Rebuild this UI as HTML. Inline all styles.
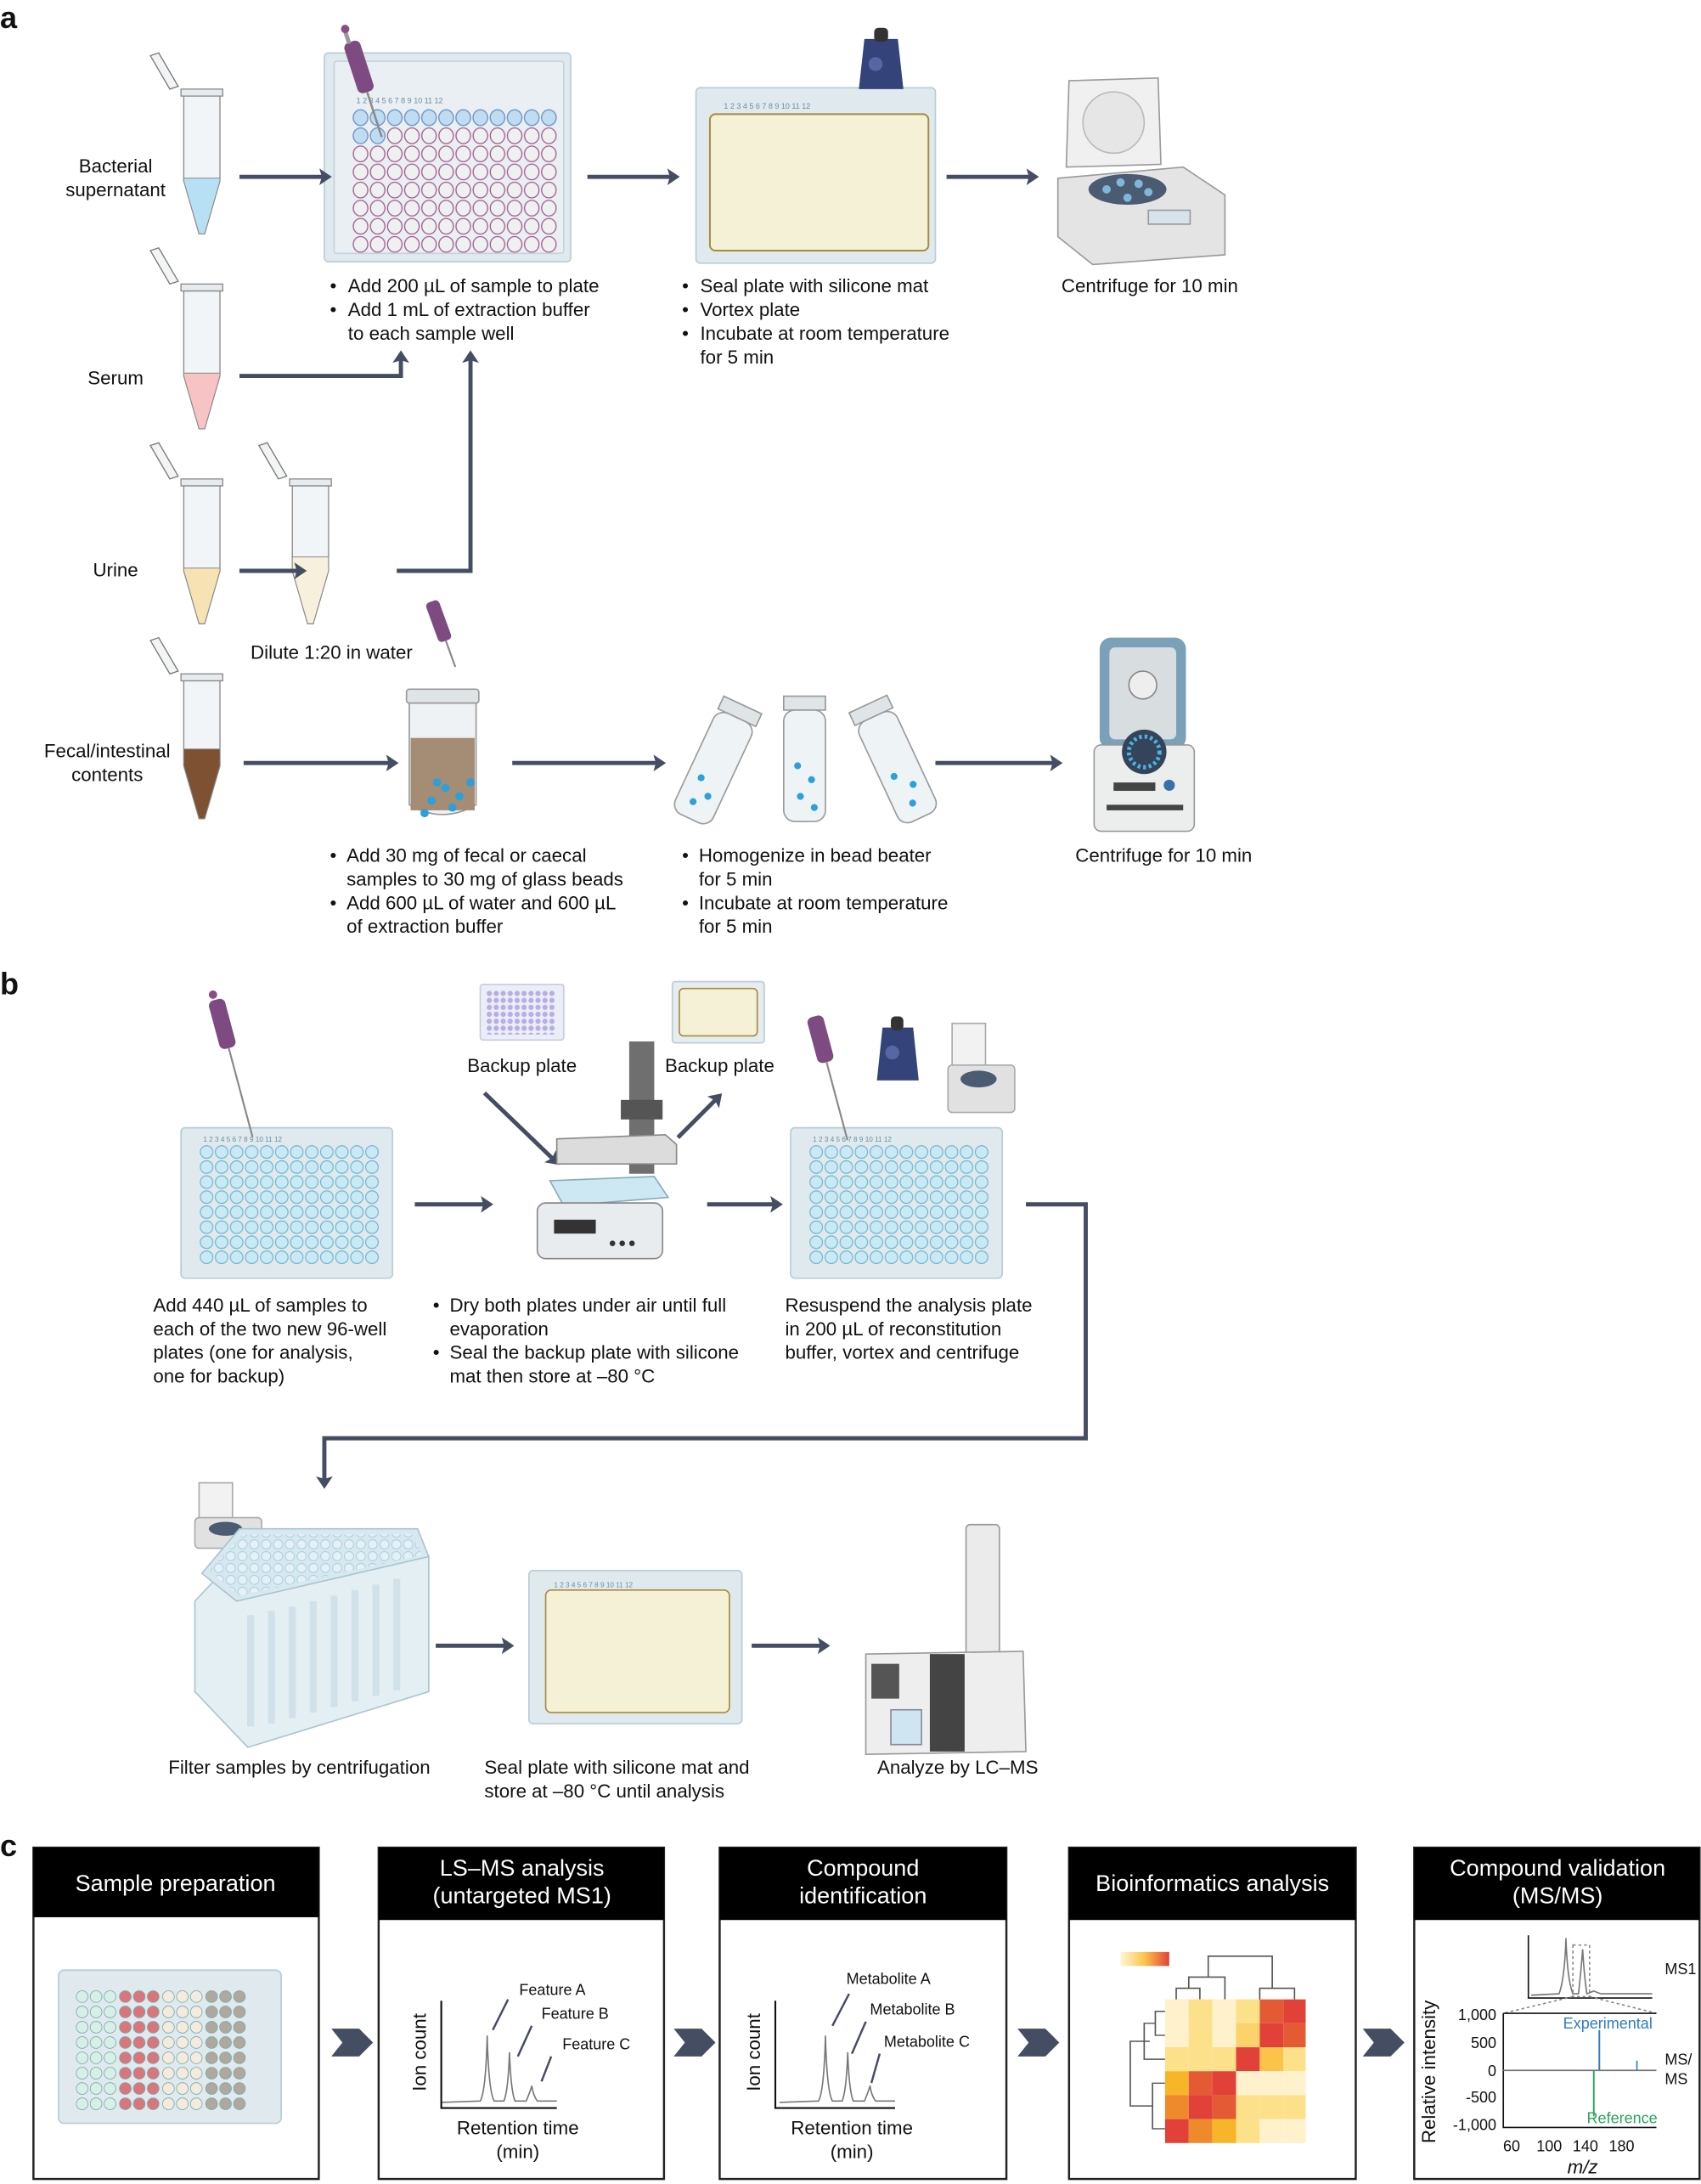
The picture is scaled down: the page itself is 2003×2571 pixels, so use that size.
<!DOCTYPE html>
<html><head><meta charset="utf-8"><style>
html,body{margin:0;padding:0;background:#fff}
svg{display:block}
text{font-family:"Liberation Sans",sans-serif;fill:#111}
.t{font-size:13.6px}
.h{font-size:16.5px;fill:#fff}
.s{font-size:11px}
.ar{stroke:#454d63;stroke-width:3;fill:none}
</style></head><body>
<svg width="2003" height="2571" viewBox="0 0 1222 1568.6" xmlns="http://www.w3.org/2000/svg">
<defs>
<marker id="m" markerWidth="4" markerHeight="4" refX="2.2" refY="2" orient="auto" markerUnits="strokeWidth"><path d="M0,0 L3,2 L0,4 L0.6,2 Z" fill="#454d63"/></marker>
<pattern id="wp" x="253" y="78" width="12.3" height="13" patternUnits="userSpaceOnUse"><ellipse cx="6" cy="6.5" rx="5.2" ry="5.6" fill="#eef0f2" stroke="#a45a8a" stroke-width="0.8"/></pattern>
<pattern id="wb2" width="10.8" height="10.8" patternUnits="userSpaceOnUse" x="143" y="822"><circle cx="5.4" cy="5.4" r="4.5" fill="#c9e9f5" stroke="#6fb3cf" stroke-width="0.7"/></pattern>
<pattern id="wb3" width="10.8" height="10.8" patternUnits="userSpaceOnUse" x="581" y="822"><circle cx="5.4" cy="5.4" r="4.5" fill="#c9e9f5" stroke="#6fb3cf" stroke-width="0.7"/></pattern>
<pattern id="wf" width="8.5" height="8.5" patternUnits="userSpaceOnUse"><circle cx="4.2" cy="4.2" r="3.3" fill="#e4f1f7" stroke="#a9cfe0" stroke-width="0.6"/></pattern>
<pattern id="wpur" width="5" height="5" patternUnits="userSpaceOnUse" x="349" y="711"><circle cx="2.5" cy="2.5" r="1.9" fill="#b7aee6"/></pattern>
<g id="tube">
<path d="M-22,-60 L-8,-36 L-2,-38 L-16,-62 Z" fill="#f2f4f5" stroke="#777" stroke-width="0.8"/>
<rect x="0" y="-36" width="30" height="5" fill="#e6ebee" stroke="#888" stroke-width="0.8"/>
<path d="M2,-31 L28,-31 L28,30 L17,68 L13,68 L2,30 Z" fill="#f1f5f7" stroke="#888" stroke-width="0.8"/>
</g>
</defs>

<!-- ===== PANEL A ===== -->
<text x="0" y="20" style="font-size:22px;font-weight:bold">a</text>

<use href="#tube" x="130" y="100"/><path d="M132,128 L158,128 L158,130 L147,168 L143,168 L132,130 Z" fill="#b7e0f5" stroke="#888" stroke-width="0.6"/>
<use href="#tube" x="130" y="240"/><path d="M132,268 L158,268 L158,270 L147,308 L143,308 L132,270 Z" fill="#f8c3c5" stroke="#888" stroke-width="0.6"/>
<use href="#tube" x="130" y="380"/><path d="M132,408 L158,408 L158,410 L147,448 L143,448 L132,410 Z" fill="#f6e2b2" stroke="#888" stroke-width="0.6"/>
<use href="#tube" x="208" y="380"/><path d="M210,400 L236,400 L236,410 L225,448 L221,448 L210,410 Z" fill="#f7f0dc" stroke="#888" stroke-width="0.6"/>
<use href="#tube" x="130" y="520"/><path d="M132,538 L158,538 L158,550 L147,588 L143,588 L132,550 Z" fill="#7d5132" stroke="#888" stroke-width="0.6"/>

<text class="t" x="83" y="124" text-anchor="middle">Bacterial</text>
<text class="t" x="83" y="141" text-anchor="middle">supernatant</text>
<text class="t" x="83" y="276" text-anchor="middle">Serum</text>
<text class="t" x="83" y="414" text-anchor="middle">Urine</text>
<text class="t" x="77" y="544" text-anchor="middle">Fecal/intestinal</text>
<text class="t" x="77" y="561" text-anchor="middle">contents</text>

<!-- plate 1 -->
<rect x="233" y="38" width="177" height="150" rx="3" fill="#dfe9ee" stroke="#b6cdd6"/>
<rect x="240" y="44" width="165" height="138" rx="2" fill="#e9eff2" stroke="#c3d4db"/>
<text x="256" y="74" style="font-size:5.5px;fill:#6a8ea0">1    2    3    4    5    6    7    8    9   10   11   12</text>
<rect x="253" y="78" width="147.6" height="104" fill="url(#wp)"/>
<g fill="#bfdcf3" stroke="#6f9cc8" stroke-width="0.8">
<ellipse cx="259" cy="84.5" rx="5.2" ry="5.6"/><ellipse cx="271.3" cy="84.5" rx="5.2" ry="5.6"/><ellipse cx="283.6" cy="84.5" rx="5.2" ry="5.6"/><ellipse cx="295.9" cy="84.5" rx="5.2" ry="5.6"/><ellipse cx="308.2" cy="84.5" rx="5.2" ry="5.6"/><ellipse cx="320.5" cy="84.5" rx="5.2" ry="5.6"/><ellipse cx="332.8" cy="84.5" rx="5.2" ry="5.6"/><ellipse cx="345.1" cy="84.5" rx="5.2" ry="5.6"/><ellipse cx="357.4" cy="84.5" rx="5.2" ry="5.6"/><ellipse cx="369.7" cy="84.5" rx="5.2" ry="5.6"/><ellipse cx="382" cy="84.5" rx="5.2" ry="5.6"/><ellipse cx="394.3" cy="84.5" rx="5.2" ry="5.6"/>
<ellipse cx="259" cy="97.5" rx="5.2" ry="5.6"/><ellipse cx="271.3" cy="97.5" rx="5.2" ry="5.6"/></g>
<g transform="translate(252,30) rotate(-18)"><rect x="-6" y="0" width="12" height="38" rx="4" fill="#7e4a82"/><rect x="-3" y="-8" width="3" height="9" fill="#999"/><circle cx="-1" cy="-10" r="3" fill="#8b4d84"/><line x1="0" y1="38" x2="0" y2="72" stroke="#888" stroke-width="1.5"/></g>

<text class="t" x="237" y="210">•</text><text class="t" x="250" y="210">Add 200 µL of sample to plate</text>
<text class="t" x="237" y="227">•</text><text class="t" x="250" y="227">Add 1 mL of extraction buffer</text>
<text class="t" x="250" y="244">to each sample well</text>

<rect x="500" y="63" width="172" height="126" rx="3" fill="#dfe9ee" stroke="#b6cdd6"/>
<text x="520" y="78" style="font-size:5.5px;fill:#6a8ea0">1    2    3    4    5    6    7    8    9   10   11   12</text>
<rect x="510" y="82" width="157" height="98" rx="4" fill="#f5f1d6" stroke="#a8893f" stroke-width="1.2"/>
<g transform="translate(615,18)"><path d="M6,10 L30,10 L34,46 L2,46 Z" fill="#34437a"/><rect x="13" y="2" width="10" height="10" rx="3" fill="#333"/><circle cx="14" cy="28" r="5" fill="#5867a3"/></g>
<text class="t" x="490" y="210">•</text><text class="t" x="503" y="210">Seal plate with silicone mat</text>
<text class="t" x="490" y="227">•</text><text class="t" x="503" y="227">Vortex plate</text>
<text class="t" x="490" y="244">•</text><text class="t" x="503" y="244">Incubate at room temperature</text>
<text class="t" x="503" y="261">for 5 min</text>

<g transform="translate(760,58)">
<path d="M8,0 L72,-2 L74,60 L6,62 Z" fill="#f0f0f0" stroke="#9a9a9a"/>
<circle cx="40" cy="30" r="22" fill="#e6e6e6" stroke="#bbb"/>
<path d="M0,70 L90,62 L120,82 L120,125 L25,132 L0,112 Z" fill="#e4e4e4" stroke="#999"/>
<ellipse cx="50" cy="78" rx="28" ry="11" fill="#4a5b72"/>
<g fill="#7fb7d9"><circle cx="35" cy="78" r="3"/><circle cx="45" cy="73" r="3"/><circle cx="58" cy="74" r="3"/><circle cx="65" cy="80" r="3"/><circle cx="50" cy="84" r="3"/></g>
<rect x="65" y="93" width="30" height="10" fill="#d7e3ea" stroke="#999"/>
</g>
<text class="t" x="826" y="210" text-anchor="middle">Centrifuge for 10 min</text>

<line class="ar" x1="172" y1="127" x2="236" y2="127" marker-end="url(#m)"/>
<line class="ar" x1="422" y1="127" x2="486" y2="127" marker-end="url(#m)"/>
<line class="ar" x1="680" y1="127" x2="744" y2="127" marker-end="url(#m)"/>
<polyline class="ar" points="172,270 288,270 288,254" marker-end="url(#m)"/>
<line class="ar" x1="172" y1="410" x2="218" y2="410" marker-end="url(#m)"/>
<polyline class="ar" points="285,410 338,410 338,254" marker-end="url(#m)"/>
<text class="t" x="180" y="473">Dilute 1:20 in water</text>

<line class="ar" x1="175" y1="548" x2="284" y2="548" marker-end="url(#m)"/>
<line class="ar" x1="368" y1="548" x2="476" y2="548" marker-end="url(#m)"/>
<line class="ar" x1="672" y1="548" x2="761" y2="548" marker-end="url(#m)"/>

<g transform="translate(310,432) rotate(-20)"><rect x="-5" y="0" width="10" height="30" rx="3" fill="#7e4a82"/><line x1="0" y1="30" x2="0" y2="50" stroke="#888" stroke-width="1.3"/></g>
<rect x="292" y="495" width="52" height="10" rx="2" fill="#dfe4e7" stroke="#999"/>
<path d="M294,505 L342,505 L342,578 Q318,592 294,578 Z" fill="#eef2f4" stroke="#999"/>
<rect x="295" y="530" width="46" height="52" fill="#a58c75"/>
<g fill="#2f9fd8"><circle cx="320" cy="566" r="3"/><circle cx="330" cy="572" r="3"/><circle cx="310" cy="575" r="3"/><circle cx="325" cy="580" r="3"/><circle cx="338" cy="562" r="3"/><circle cx="314" cy="562" r="3"/><circle cx="305" cy="584" r="3"/></g>

<g fill="#eef3f6" stroke="#999">
<g transform="translate(520,500) rotate(25)"><rect x="0" y="0" width="30" height="10" fill="#dfe4e7"/><rect x="0" y="10" width="30" height="80" rx="8"/><circle cx="10" cy="60" r="2.5" fill="#2f9fd8" stroke="none"/><circle cx="20" cy="70" r="2.5" fill="#2f9fd8" stroke="none"/><circle cx="12" cy="78" r="2.5" fill="#2f9fd8" stroke="none"/></g>
<g transform="translate(563,500)"><rect x="0" y="0" width="30" height="10" fill="#dfe4e7"/><rect x="0" y="10" width="30" height="80" rx="8"/><circle cx="10" cy="50" r="2.5" fill="#2f9fd8" stroke="none"/><circle cx="20" cy="60" r="2.5" fill="#2f9fd8" stroke="none"/><circle cx="12" cy="72" r="2.5" fill="#2f9fd8" stroke="none"/><circle cx="22" cy="80" r="2.5" fill="#2f9fd8" stroke="none"/></g>
<g transform="translate(610,512) rotate(-25)"><rect x="0" y="0" width="30" height="10" fill="#dfe4e7"/><rect x="0" y="10" width="30" height="80" rx="8"/><circle cx="10" cy="55" r="2.5" fill="#2f9fd8" stroke="none"/><circle cx="20" cy="66" r="2.5" fill="#2f9fd8" stroke="none"/><circle cx="14" cy="78" r="2.5" fill="#2f9fd8" stroke="none"/></g>
</g>
<rect x="790" y="458" width="62" height="80" rx="8" fill="#7aa1b8"/>
<rect x="797" y="465" width="48" height="66" rx="4" fill="#d8dde0"/>
<circle cx="821" cy="492" r="10" fill="#eee" stroke="#888"/>
<rect x="786" y="535" width="72" height="62" rx="5" fill="#eceded" stroke="#999"/>
<circle cx="822" cy="540" r="16" fill="#34445a"/>
<circle cx="822" cy="540" r="11" fill="none" stroke="#4fb2e0" stroke-width="3" stroke-dasharray="2 2"/>
<rect x="800" y="562" width="30" height="6" fill="#444"/><rect x="795" y="578" width="55" height="4" fill="#444"/><circle cx="840" cy="564" r="4" fill="#3a6fa8"/>

<text class="t" x="237" y="619">•</text><text class="t" x="249" y="619">Add 30 mg of fecal or caecal</text>
<text class="t" x="249" y="636">samples to 30 mg of glass beads</text>
<text class="t" x="237" y="653">•</text><text class="t" x="249" y="653">Add 600 µL of water and 600 µL</text>
<text class="t" x="249" y="670">of extraction buffer</text>
<text class="t" x="490" y="619">•</text><text class="t" x="502" y="619">Homogenize in bead beater</text>
<text class="t" x="502" y="636">for 5 min</text>
<text class="t" x="490" y="653">•</text><text class="t" x="502" y="653">Incubate at room temperature</text>
<text class="t" x="502" y="670">for 5 min</text>
<text class="t" x="836" y="619" text-anchor="middle">Centrifuge for 10 min</text>

<!-- ===== PANEL B ===== -->
<text x="0" y="714" style="font-size:22px;font-weight:bold">b</text>
<rect x="130" y="810" width="152" height="108" rx="3" fill="#dfe9ee" stroke="#b6cdd6"/>
<text x="146" y="820" style="font-size:5px;fill:#6a8ea0">1   2   3   4   5   6   7   8   9  10  11  12</text>
<rect x="143" y="822" width="129.6" height="86.4" fill="url(#wb2)"/>
<g transform="translate(155,718) rotate(-15)"><rect x="-6" y="0" width="12" height="36" rx="4" fill="#7e4a82"/><circle cx="-1" cy="-4" r="3" fill="#8b4d84"/><line x1="0" y1="36" x2="0" y2="102" stroke="#888" stroke-width="1.3"/></g>
<line class="ar" x1="298" y1="865" x2="352" y2="865" marker-end="url(#m)"/>

<rect x="345" y="707" width="60" height="40" rx="2" fill="#eceef6" stroke="#c7cbe0"/>
<rect x="349" y="711" width="50" height="32" fill="url(#wpur)"/>
<rect x="483" y="705" width="66" height="44" rx="2" fill="#e6ecef" stroke="#b6cdd6"/>
<rect x="488" y="710" width="56" height="34" rx="3" fill="#f5f1d6" stroke="#a8893f"/>
<text class="t" x="375" y="770" text-anchor="middle">Backup plate</text>
<text class="t" x="517" y="770" text-anchor="middle">Backup plate</text>
<line class="ar" x1="348" y1="785" x2="400" y2="835" marker-end="url(#m)"/>
<line class="ar" x1="487" y1="817" x2="517" y2="787" marker-end="url(#m)"/>
<rect x="452" y="748" width="18" height="95" fill="#6f6f6f"/>
<rect x="446" y="790" width="30" height="14" fill="#555"/>
<path d="M400,818 L478,815 L486,822 L486,836 L400,836 Z" fill="#dcdcdc" stroke="#888"/>
<path d="M395,848 L470,845 L480,860 L405,866 Z" fill="#cde8f2" stroke="#8ab"/>
<rect x="386" y="864" width="90" height="40" rx="6" fill="#e9ecef" stroke="#888"/>
<rect x="398" y="876" width="30" height="10" fill="#333"/>
<circle cx="440" cy="893" r="2" fill="#333"/><circle cx="447" cy="893" r="2" fill="#333"/><circle cx="454" cy="893" r="2" fill="#333"/>
<line class="ar" x1="508" y1="865" x2="560" y2="865" marker-end="url(#m)"/>

<rect x="568" y="810" width="152" height="108" rx="3" fill="#dfe9ee" stroke="#b6cdd6"/>
<text x="584" y="820" style="font-size:5px;fill:#6a8ea0">1   2   3   4   5   6   7   8   9  10  11  12</text>
<rect x="581" y="822" width="129.6" height="86.4" fill="url(#wb3)"/>
<g transform="translate(585,730) rotate(-15)"><rect x="-6" y="0" width="12" height="34" rx="4" fill="#7e4a82"/><line x1="0" y1="34" x2="0" y2="92" stroke="#888" stroke-width="1.3"/></g>
<g transform="translate(628,728)"><path d="M6,10 L28,10 L32,48 L2,48 Z" fill="#34437a"/><rect x="12" y="2" width="9" height="10" rx="3" fill="#333"/><circle cx="13" cy="28" r="5" fill="#5867a3"/></g>
<g transform="translate(681,735)"><rect x="3" y="0" width="24" height="32" fill="#f2f2f2" stroke="#aaa"/><rect x="0" y="30" width="48" height="34" rx="3" fill="#e1e1e1" stroke="#aaa"/><ellipse cx="22" cy="40" rx="13" ry="6" fill="#4a5b72"/></g>

<polyline class="ar" points="737,865 780,865 780,1033 233,1033 233,1067" marker-end="url(#m)"/>

<text class="t" x="110" y="942">Add 440 µL of samples to</text>
<text class="t" x="110" y="959">each of the two new 96-well</text>
<text class="t" x="110" y="976">plates (one for analysis,</text>
<text class="t" x="110" y="993">one for backup)</text>
<text class="t" x="311" y="942">•</text><text class="t" x="323" y="942">Dry both plates under air until full</text>
<text class="t" x="323" y="959">evaporation</text>
<text class="t" x="311" y="976">•</text><text class="t" x="323" y="976">Seal the backup plate with silicone</text>
<text class="t" x="323" y="993">mat then store at –80 °C</text>
<text class="t" x="564" y="942">Resuspend the analysis plate</text>
<text class="t" x="564" y="959">in 200 µL of reconstitution</text>
<text class="t" x="564" y="976">buffer, vortex and centrifuge</text>

<g transform="translate(140,1065)"><rect x="3" y="0" width="24" height="28" fill="#f2f2f2" stroke="#aaa"/><rect x="0" y="25" width="48" height="22" rx="3" fill="#e1e1e1" stroke="#aaa"/><ellipse cx="22" cy="33" rx="12" ry="5" fill="#4a5b72"/></g>
<path d="M140,1150 L170,1118 L308,1118 L308,1215 L178,1255 L140,1215 Z" fill="#e4eff4" stroke="#a8c4d0"/>
<path d="M145,1130 L172,1098 L300,1098 L308,1118 L170,1150 Z" fill="#d7e8ef" stroke="#a8c4d0"/>
<path d="M150,1128 L175,1102 L296,1102 L303,1117 L172,1146 Z" fill="url(#wf)"/>
<g stroke="#cfe0e8" stroke-width="5" opacity="0.9">
<line x1="180" y1="1160" x2="180" y2="1240"/><line x1="195" y1="1157" x2="195" y2="1238"/><line x1="210" y1="1154" x2="210" y2="1234"/><line x1="225" y1="1150" x2="225" y2="1230"/><line x1="240" y1="1146" x2="240" y2="1226"/><line x1="255" y1="1142" x2="255" y2="1222"/><line x1="270" y1="1138" x2="270" y2="1218"/><line x1="285" y1="1134" x2="285" y2="1214"/></g>
<line class="ar" x1="313" y1="1182" x2="367" y2="1182" marker-end="url(#m)"/>
<rect x="380" y="1128" width="153" height="110" rx="3" fill="#dfe9ee" stroke="#b6cdd6"/>
<text x="398" y="1140" style="font-size:5px;fill:#6a8ea0">1   2   3   4   5   6   7   8   9  10  11  12</text>
<rect x="392" y="1142" width="132" height="88" rx="4" fill="#f5f1d6" stroke="#a8893f"/>
<line class="ar" x1="540" y1="1182" x2="594" y2="1182" marker-end="url(#m)"/>
<rect x="694" y="1095" width="24" height="95" rx="3" fill="#ebebeb" stroke="#999"/>
<path d="M622,1188 L735,1186 L737,1258 L622,1260 Z" fill="#eeeeee" stroke="#999"/>
<rect x="668" y="1188" width="25" height="70" fill="#444"/>
<rect x="640" y="1228" width="22" height="25" fill="#cfe6f2" stroke="#889"/>
<rect x="626" y="1195" width="20" height="25" fill="#555"/>

<text class="t" x="215" y="1274" text-anchor="middle">Filter samples by centrifugation</text>
<text class="t" x="348" y="1274">Seal plate with silicone mat and</text>
<text class="t" x="348" y="1291">store at –80 °C until analysis</text>
<text class="t" x="688" y="1274" text-anchor="middle">Analyze by LC–MS</text>

<!-- ===== PANEL C ===== -->
<text x="0" y="1333" style="font-size:22px;font-weight:bold">c</text>
<g fill="#fff" stroke="#222" stroke-width="1.5">
<rect x="24" y="1327" width="205" height="238"/><rect x="272" y="1327" width="205" height="238"/><rect x="517" y="1327" width="206" height="238"/><rect x="768" y="1327" width="206" height="238"/><rect x="1016" y="1327" width="205" height="238"/></g>
<g fill="#000"><rect x="24" y="1327" width="205" height="50"/><rect x="272" y="1327" width="205" height="52"/><rect x="517" y="1327" width="206" height="52"/><rect x="768" y="1327" width="206" height="52"/><rect x="1016" y="1327" width="205" height="52"/></g>
<text class="h" x="126" y="1358" text-anchor="middle">Sample preparation</text>
<text class="h" x="375" y="1347" text-anchor="middle">LS–MS analysis</text>
<text class="h" x="375" y="1367" text-anchor="middle">(untargeted MS1)</text>
<text class="h" x="620" y="1347" text-anchor="middle">Compound</text>
<text class="h" x="620" y="1367" text-anchor="middle">identification</text>
<text class="h" x="871" y="1358" text-anchor="middle">Bioinformatics analysis</text>
<text class="h" x="1119" y="1347" text-anchor="middle">Compound validation</text>
<text class="h" x="1119" y="1367" text-anchor="middle">(MS/MS)</text>
<g fill="#454d63">
<path d="M238,1457 L258,1457 L268,1467 L258,1477 L238,1477 L246,1467 Z"/>
<path d="M484,1457 L504,1457 L514,1467 L504,1477 L484,1477 L492,1467 Z"/>
<path d="M731,1457 L751,1457 L761,1467 L751,1477 L731,1477 L739,1467 Z"/>
<path d="M979,1457 L999,1457 L1009,1467 L999,1477 L979,1477 L987,1467 Z"/>
</g>
<rect x="42" y="1415" width="160" height="110" rx="4" fill="#dfe9ee" stroke="#b6cdd6"/>
<g id="row">
<g stroke="#7aa" stroke-width="0.5">
<circle cx="59" cy="1434" r="4.2" fill="#d8efe8"/><circle cx="69" cy="1434" r="4.2" fill="#d8efe8"/><circle cx="79" cy="1434" r="4.2" fill="#d8efe8"/>
<circle cx="90" cy="1434" r="4.2" fill="#d9767c"/><circle cx="100" cy="1434" r="4.2" fill="#d9767c"/><circle cx="110" cy="1434" r="4.2" fill="#d9767c"/>
<circle cx="121" cy="1434" r="4.2" fill="#f4eadd"/><circle cx="131" cy="1434" r="4.2" fill="#f4eadd"/><circle cx="141" cy="1434" r="4.2" fill="#f4eadd"/>
<circle cx="152" cy="1434" r="4.2" fill="#b0a79f"/><circle cx="162" cy="1434" r="4.2" fill="#b0a79f"/><circle cx="172" cy="1434" r="4.2" fill="#b0a79f"/>
</g></g>
<use href="#row" y="11"/><use href="#row" y="22"/><use href="#row" y="33"/><use href="#row" y="44"/><use href="#row" y="55"/><use href="#row" y="66"/><use href="#row" y="77"/>

<g fill="none" stroke="#777" stroke-width="1">
<path d="M317,1510 L345,1509 Q349,1502 350,1462 Q351,1502 355,1509 L362,1509 Q365,1502 366,1474 Q367,1502 370,1509 L378,1509 Q381,1502 382,1498 Q383,1505 386,1509 L400,1509"/>
<path d="M560,1510 L588,1509 Q592,1502 593,1462 Q594,1502 598,1509 L605,1509 Q608,1502 609,1474 Q610,1502 613,1509 L621,1509 Q624,1502 625,1498 Q626,1505 629,1509 L643,1509"/>
</g>
<g stroke="#111" stroke-width="1.3"><polyline fill="none" points="317,1437 317,1514 400,1514"/><polyline fill="none" points="557,1437 557,1514 643,1514"/></g>
<g stroke="#454d63" stroke-width="1.5" fill="none">
<line x1="365" y1="1436" x2="354" y2="1458"/><line x1="382" y1="1455" x2="372" y2="1477"/><line x1="396" y1="1477" x2="389" y2="1495"/>
<line x1="610" y1="1432" x2="598" y2="1455"/><line x1="622" y1="1452" x2="612" y2="1475"/><line x1="632" y1="1475" x2="626" y2="1496"/>
</g>
<text class="s" x="373" y="1433">Feature A</text><text class="s" x="389" y="1450">Feature B</text><text class="s" x="404" y="1472">Feature C</text>
<text class="s" x="608" y="1425">Metabolite A</text><text class="s" x="625" y="1447">Metabolite B</text><text class="s" x="635" y="1470">Metabolite C</text>
<text class="t" x="306" y="1474" transform="rotate(-90 306 1474)" text-anchor="middle">Ion count</text>
<text class="t" x="546" y="1474" transform="rotate(-90 546 1474)" text-anchor="middle">Ion count</text>
<text class="t" x="372" y="1533" text-anchor="middle">Retention time</text><text class="t" x="372" y="1550" text-anchor="middle">(min)</text>
<text class="t" x="612" y="1533" text-anchor="middle">Retention time</text><text class="t" x="612" y="1550" text-anchor="middle">(min)</text>

<!-- heatmap -->
<defs><linearGradient id="lg"><stop offset="0" stop-color="#fff6d8"/><stop offset="0.5" stop-color="#fbc34a"/><stop offset="1" stop-color="#e2413a"/></linearGradient></defs>
<rect x="805" y="1402" width="35" height="10" fill="url(#lg)"/>
<g transform="translate(0,1436) scale(1,0.86)">
<g transform="translate(0,-1396)">
<rect x="837" y="1396" width="17" height="20" fill="#fff1cc"/><rect x="854" y="1396" width="17" height="20" fill="#fde08a"/><rect x="871" y="1396" width="17" height="20" fill="#fff1cc"/><rect x="888" y="1396" width="17" height="20" fill="#fde08a"/><rect x="905" y="1396" width="17" height="20" fill="#e35a35"/><rect x="922" y="1396" width="16" height="20" fill="#e2413a"/>
<rect x="837" y="1416" width="17" height="20" fill="#fff1cc"/><rect x="854" y="1416" width="17" height="20" fill="#fde08a"/><rect x="871" y="1416" width="17" height="20" fill="#fff1cc"/><rect x="888" y="1416" width="17" height="20" fill="#fbd36a"/><rect x="905" y="1416" width="17" height="20" fill="#e2413a"/><rect x="922" y="1416" width="16" height="20" fill="#e35a35"/>
<rect x="837" y="1436" width="17" height="20" fill="#fde08a"/><rect x="854" y="1436" width="17" height="20" fill="#fde08a"/><rect x="871" y="1436" width="17" height="20" fill="#fde08a"/><rect x="888" y="1436" width="17" height="20" fill="#e2413a"/><rect x="905" y="1436" width="17" height="20" fill="#fbc34a"/><rect x="922" y="1436" width="16" height="20" fill="#fde08a"/>
<rect x="837" y="1456" width="17" height="20" fill="#f7b52a"/><rect x="854" y="1456" width="17" height="20" fill="#e35a35"/><rect x="871" y="1456" width="17" height="20" fill="#e2413a"/><rect x="888" y="1456" width="17" height="20" fill="#fff1cc"/><rect x="905" y="1456" width="17" height="20" fill="#fff1cc"/><rect x="922" y="1456" width="16" height="20" fill="#fff1cc"/>
<rect x="837" y="1476" width="17" height="20" fill="#ee8a2c"/><rect x="854" y="1476" width="17" height="20" fill="#e2413a"/><rect x="871" y="1476" width="17" height="20" fill="#e35a35"/><rect x="888" y="1476" width="17" height="20" fill="#fde08a"/><rect x="905" y="1476" width="17" height="20" fill="#fde08a"/><rect x="922" y="1476" width="16" height="20" fill="#fde08a"/>
<rect x="837" y="1496" width="17" height="20" fill="#e2413a"/><rect x="854" y="1496" width="17" height="20" fill="#ee8a2c"/><rect x="871" y="1496" width="17" height="20" fill="#f7b52a"/><rect x="888" y="1496" width="17" height="20" fill="#fde08a"/><rect x="905" y="1496" width="17" height="20" fill="#fff1cc"/><rect x="922" y="1496" width="16" height="20" fill="#fff1cc"/>
<path d="M837,1406 H830 V1426 H837 M830,1416 H822 V1446 H837 M826,1431 H812 V1485 H822 M837,1466 H828 V1504 H837 M828,1485 H822" fill="none" stroke="#555" stroke-width="1"/>
</g></g>
<g fill="none" stroke="#555" stroke-width="1">
<path d="M845,1436 V1428 H862 V1436 M854,1428 V1420 H880 V1436"/>
<path d="M905,1436 V1428 H930 V1436 M914,1428 V1418"/><path d="M868,1420 V1405 H914 V1418"/>
</g>

<!-- validation -->
<g fill="none" stroke="#777" stroke-width="1">
<polyline points="1098,1390 1098,1435 1187,1435" stroke="#111"/>
<path d="M1100,1433 L1120,1432 Q1124,1422 1125,1392 Q1126,1422 1130,1432 L1134,1432 Q1136,1414 1137,1400 Q1138,1418 1140,1432 L1145,1430 L1150,1432 L1187,1432"/>
<rect x="1130" y="1397" width="12" height="37" stroke-dasharray="2 2" stroke="#888"/>
<path d="M1130,1434 L1080,1446 M1142,1434 L1190,1446" stroke-dasharray="2 2" stroke="#888"/>
</g>
<polyline points="1080,1446 1080,1528 1190,1528" fill="none" stroke="#111"/>
<line x1="1080" y1="1446" x2="1190" y2="1446" stroke="#111"/>
<line x1="1080" y1="1487" x2="1190" y2="1487" stroke="#777"/>
<line x1="1149" y1="1487" x2="1149" y2="1458" stroke="#2d7cc5" stroke-width="1.2"/>
<line x1="1145" y1="1487" x2="1145" y2="1520" stroke="#2ca45b" stroke-width="1.2"/>
<line x1="1176" y1="1480" x2="1176" y2="1487" stroke="#2d7cc5"/>
<text class="s" x="1123" y="1457" style="font-size:11px;fill:#2d7cc5">Experimental</text>
<text class="s" x="1140" y="1525" style="font-size:11px;fill:#2ca45b">Reference</text>
<g text-anchor="end"><text x="1075" y="1451" class="s">1,000</text><text x="1075" y="1471" class="s">500</text><text x="1075" y="1491" class="s">0</text><text x="1075" y="1510" class="s">-500</text><text x="1075" y="1530" class="s">-1,000</text></g>
<g text-anchor="middle"><text x="1086" y="1545" class="s">60</text><text x="1113" y="1545" class="s">100</text><text x="1139" y="1545" class="s">140</text><text x="1165" y="1545" class="s">180</text></g>
<text class="t" x="1137" y="1561" text-anchor="middle" style="font-style:italic">m/z</text>
<text class="t" x="1031" y="1488" transform="rotate(-90 1031 1488)" text-anchor="middle">Relative intensity</text>
<text class="s" x="1196" y="1418">MS1</text>
<text class="s" x="1196" y="1483">MS/</text><text class="s" x="1196" y="1497">MS</text>
</svg>
</body></html>
